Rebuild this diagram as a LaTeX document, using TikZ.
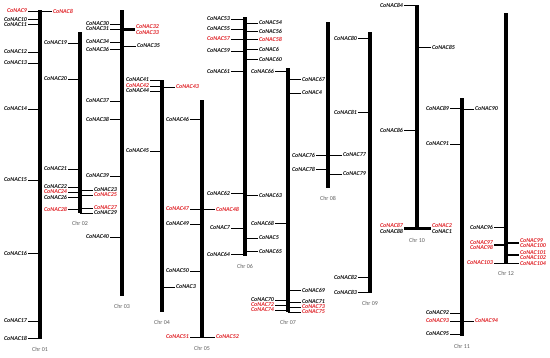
\documentclass[tikz,border=0pt]{standalone}
\usepackage{fontspec}
\setmainfont{Carlito}
\usetikzlibrary{positioning}
\definecolor{nacInk}{HTML}{111111}
\definecolor{nacRed}{HTML}{E0262B}
\definecolor{nacGray}{HTML}{5F5F5F}
\tikzset{
  every picture/.style={text=nacInk},
  nac chrom/.style={draw=black, line width=3.6pt, line cap=butt},
  nac tick/.style={draw=black, line width=0.8pt},
  nac pair/.style={draw=black, line width=2.4pt},
  nac gene/.style={font=\fontsize{6}{6}\selectfont\bfseries\itshape, inner sep=0.8pt},
  nac twin/.style={nac gene, inner ysep=0.4pt},
  nac name/.style={font=\fontsize{6}{7}\selectfont, text=nacGray, inner sep=1pt}
}
\begin{document}
\begin{tikzpicture}[x=1pt,y=-1pt]
  \useasboundingbox (0,0) rectangle (550,357);
  \foreach \c/\x/\top/\bot in {01/40/10/339, 02/80/32/213, 03/122/10/296, 04/162/80/312,
      05/202/100/338, 06/245/17/256, 07/288/68/312, 08/328/22/188, 09/370/32/293,
      10/417/5/230, 11/462/98/336, 12/506/13/263} {
    \coordinate (c\c) at (\x,\top);
    \coordinate (c\c b) at (\x,\bot);
    \draw[nac chrom] (c\c) -- (c\c b);
    \node[nac name, below=7pt of c\c b] (l\c) {Chr \c};
  }
  % genes on the left of a chromosome
  \foreach \c/\x/\y/\n/\col in {01/28/11/9/nacRed, 01/28/19.5/10/nacInk, 01/28/24.5/11/nacInk,
      01/28/52/12/nacInk, 01/28/63/13/nacInk, 01/28/109/14/nacInk, 01/28/180/15/nacInk,
      01/28/253/16/nacInk, 01/28/321/17/nacInk, 01/28/338/18/nacInk,
      02/68/43/19/nacInk, 02/68/79/20/nacInk, 02/68/169/21/nacInk, 02/68/187/22/nacInk,
      02/68/192/24/nacRed, 02/68/197/26/nacInk, 02/68/209/28/nacRed,
      03/110/24/30/nacInk, 03/110/29/31/nacInk, 03/110/42/34/nacInk, 03/110/49/36/nacInk,
      03/110/101/37/nacInk, 03/110/119/38/nacInk, 03/110/176/39/nacInk, 03/110/237/40/nacInk,
      04/150/80/41/nacInk, 04/150/86/42/nacRed, 04/150/91/44/nacInk, 04/150/151/45/nacInk,
      05/190/119/46/nacInk, 05/190/209/47/nacRed, 05/190/224/49/nacInk, 05/190/271/50/nacInk,
      05/190/337/51/nacRed,
      06/231/19/53/nacInk, 06/231/29/55/nacInk, 06/231/39/57/nacRed, 06/231/51/59/nacInk,
      06/231/71/61/nacInk, 06/231/193/62/nacInk, 06/231/228/7/nacInk, 06/231/254/64/nacInk,
      07/275/71/66/nacInk, 07/275/223/68/nacInk, 07/275/300/70/nacInk, 07/275/305/72/nacRed,
      07/275/310/74/nacRed,
      08/316/155/76/nacInk, 08/316/169/78/nacInk,
      09/358/38/80/nacInk, 09/358/112/81/nacInk, 09/358/277/82/nacInk, 09/358/292/83/nacInk,
      10/404/5/84/nacInk, 10/404/130/86/nacInk,
      11/450/108/89/nacInk, 11/450/144/91/nacInk, 11/450/313/92/nacInk, 11/450/321/93/nacRed,
      11/450/334/95/nacInk,
      12/494/227/96/nacInk, 12/494/263/103/nacRed} {
    \node[nac gene, text=\col, anchor=east] (g\n) at (\x,\y) {CoNAC\n};
    \draw[nac tick] (g\n.east) -- (g\n.east -| c\c);
  }
  % genes on the right of a chromosome
  \foreach \c/\x/\y/\n/\col in {01/52/11/8/nacRed,
      02/93/190/23/nacInk, 02/93/195/25/nacRed, 02/93/208/27/nacRed, 02/93/213/29/nacInk,
      03/136/46/35/nacInk,
      04/175/87/43/nacRed, 04/175/287/3/nacInk,
      05/215/209/48/nacRed, 05/215/337/52/nacRed,
      06/258/23/54/nacInk, 06/258/31/56/nacInk, 06/258/39/58/nacRed, 06/258/49/6/nacInk,
      06/258/59/60/nacInk, 06/258/195/63/nacInk, 06/258/238/5/nacInk, 06/258/251/65/nacInk,
      07/301/79/67/nacInk, 07/301/93/4/nacInk, 07/301/290/69/nacInk, 07/301/302/71/nacInk,
      07/301/307/73/nacRed, 07/301/312/75/nacRed,
      08/342/155/77/nacInk, 08/342/174/79/nacInk,
      10/431/47/85/nacInk,
      11/474/109/90/nacInk, 11/474/321/94/nacRed,
      12/519/263.5/104/nacRed} {
    \node[nac gene, text=\col, anchor=west] (g\n) at (\x,\y) {CoNAC\n};
    \draw[nac tick] (g\n.west) -- (g\n.west -| c\c);
  }
  % paired genes sharing one tick
  \foreach \c/\x/\y/\na/\ca/\nb/\cb in {03/135/29.5/32/nacRed/33/nacRed,
      10/431/228.5/2/nacRed/1/nacInk, 12/519/243/99/nacRed/100/nacRed,
      12/519/255/101/nacRed/102/nacRed} {
    \coordinate (p\na) at (\x,\y);
    \draw[nac pair] (p\na -| c\c) -- (p\na);
    \node[nac twin, text=\ca, anchor=south west] (g\na) at (p\na) {CoNAC\na};
    \node[nac twin, text=\cb, anchor=north west] (g\nb) at (p\na) {CoNAC\nb};
  }
  \foreach \c/\x/\y/\na/\ca/\nb/\cb in {10/404/228.5/87/nacRed/88/nacInk,
      12/494/245/97/nacRed/98/nacRed} {
    \coordinate (p\na) at (\x,\y);
    \draw[nac pair] (p\na -| c\c) -- (p\na);
    \node[nac twin, text=\ca, anchor=south east] (g\na) at (p\na) {CoNAC\na};
    \node[nac twin, text=\cb, anchor=north east] (g\nb) at (p\na) {CoNAC\nb};
  }
\end{tikzpicture}
\end{document}
